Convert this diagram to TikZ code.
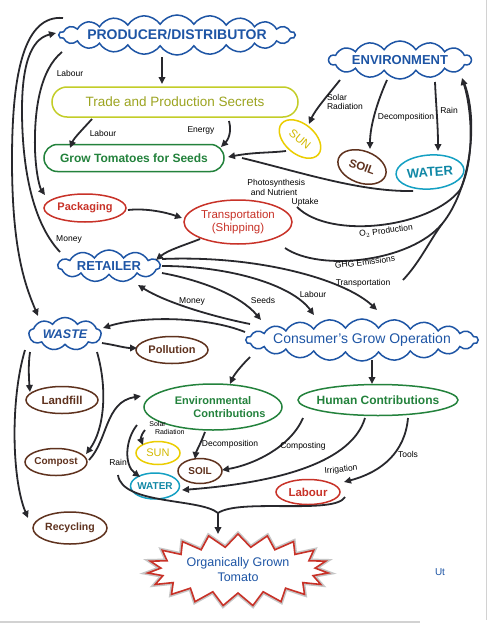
\documentclass[tikz,border=0pt]{standalone}
\usepackage{fontspec}
\setmainfont{Liberation Sans}
\usetikzlibrary{shapes.geometric,shapes.symbols,shapes.misc,arrows.meta,calc}
\definecolor{cblue}{RGB}{30,85,165}
\definecolor{cyg}{RGB}{195,205,40}
\definecolor{cgreen}{RGB}{35,130,60}
\definecolor{cred}{RGB}{200,50,40}
\definecolor{cbrown}{RGB}{95,50,30}
\definecolor{ccyan}{RGB}{20,160,195}
\definecolor{cyellow}{RGB}{235,205,0}
\definecolor{cink}{RGB}{40,40,45}
\begin{document}
\begin{tikzpicture}[x=1pt,y=-1pt,
  cloudb/.style={cloud, cloud puffs=#1, cloud puff arc=115, cloud ignores aspect, draw=cblue, line width=1.5pt, text=cblue, font=\bfseries, inner ysep=-3pt},
  rbox/.style={rounded rectangle, line width=1.5pt, inner sep=2pt},
  ell/.style={ellipse, line width=1.5pt, inner sep=1pt},
  lbl/.style={font=\fontsize{8.5}{9.5}\selectfont, text=black, inner sep=0.5pt, align=left},
  arr/.style={draw=cink, line width=1.8pt, -{Triangle[length=7pt,width=6.5pt]}},
  plain/.style={draw=cink, line width=1.8pt}]
\useasboundingbox (0,0) rectangle (487,629);
\fill[white] (0,0) rectangle (487,629);
\draw[gray!35, line width=1pt] (486,0) -- (486,620);
\draw[gray!35, line width=1.5pt] (0,622) -- (420,622);

% ---------- nodes ----------
\node[cloudb=22, inner xsep=-32pt, minimum width=236pt, minimum height=40pt, font=\bfseries\fontsize{14}{16}\selectfont] (prod) at (177,35) {PRODUCER/DISTRIBUTOR};
\node[rbox, draw=cyg, text=cyg!80!black, minimum width=250pt, minimum height=30pt, font=\fontsize{13.5}{15}\selectfont] (trade) at (175,102) {Trade and Production Secrets};
\node[rbox, draw=cgreen, text=cgreen, minimum width=184pt, minimum height=27pt, font=\bfseries\fontsize{12}{14}\selectfont] (grow) at (134,158) {Grow Tomatoes for Seeds};
\node[cloudb=14, inner xsep=-14pt, minimum width=142pt, minimum height=38pt, font=\bfseries\fontsize{13}{15}\selectfont] (env) at (400,60) {ENVIRONMENT};
\node[ell, draw=cyellow, text=cyellow!90!black, minimum width=48pt, minimum height=30pt, rotate=-40, font=\fontsize{11.5}{13}\selectfont] (sun1) at (300,139) {SUN};
\node[ell, draw=cbrown, text=cbrown, minimum width=50pt, minimum height=32pt, rotate=-20, font=\bfseries\fontsize{11.5}{13}\selectfont] (soil1) at (362,167) {SOIL};
\node[ell, draw=ccyan, text=ccyan!85!black, minimum width=68pt, minimum height=34pt, rotate=4, font=\bfseries\fontsize{13}{15}\selectfont] (water1) at (430,172) {WATER};
\node[ell, draw=cred, text=cred, minimum width=82pt, minimum height=28pt, font=\bfseries\fontsize{11}{13}\selectfont] (pack) at (85,208) {Packaging};
\node[ell, draw=cred, text=cred, minimum width=108pt, minimum height=44pt, inner xsep=-4pt, align=center, font=\fontsize{11.5}{12.5}\selectfont] (trans) at (238,222) {Transportation\\(Shipping)};
\node[cloudb=11, inner xsep=-10pt, minimum width=102pt, minimum height=32pt, font=\bfseries\fontsize{13}{15}\selectfont] (ret) at (109,266) {RETAILER};
\node[cloudb=9, inner xsep=-6pt, minimum width=72pt, minimum height=33pt, font=\bfseries\itshape\fontsize{12.5}{14}\selectfont] (waste) at (65,334) {WASTE};
\node[ell, draw=cbrown, text=cbrown, minimum width=72pt, minimum height=27pt, font=\bfseries\fontsize{11}{13}\selectfont] (poll) at (172,350) {Pollution};
\node[ell, draw=cbrown, text=cbrown, minimum width=72pt, minimum height=27pt, font=\bfseries\fontsize{11.5}{13}\selectfont] (land) at (62,400) {Landfill};
\node[ell, draw=cbrown, text=cbrown, minimum width=62pt, minimum height=27pt, inner xsep=-2pt, font=\bfseries\fontsize{10}{12}\selectfont] (comp) at (56,462) {Compost};
\node[ell, draw=cbrown, text=cbrown, minimum width=74pt, minimum height=32pt, font=\bfseries\fontsize{10.5}{12}\selectfont] (recy) at (70,528) {Recycling};
\node[cloudb=22, inner xsep=-30pt, minimum width=232pt, minimum height=42pt, font=\fontsize{14}{16}\selectfont] (cons) at (362,340) {Consumer's Grow Operation};
\node[ell, draw=cgreen, text=cgreen, minimum width=138pt, minimum height=46pt, inner xsep=-12pt, inner ysep=-2pt, align=center, font=\bfseries\fontsize{11}{13}\selectfont] (envc) at (213,407) {Environmental\\\hspace*{3em}Contributions};
\node[ell, draw=cgreen, text=cgreen, minimum width=160pt, minimum height=31pt, inner xsep=-14pt, font=\bfseries\fontsize{12}{14}\selectfont] (hum) at (378,400) {Human Contributions};
\node[ell, draw=cyellow, text=cyellow!90!black, minimum width=44pt, minimum height=23pt, font=\fontsize{11}{13}\selectfont] (sun2) at (158,453) {SUN};
\node[ell, draw=cbrown, text=cbrown, minimum width=44pt, minimum height=25pt, font=\bfseries\fontsize{10}{12}\selectfont] (soil2) at (200,471) {SOIL};
\node[ell, draw=ccyan, text=ccyan!85!black, minimum width=49pt, minimum height=26pt, inner xsep=-2pt, font=\bfseries\fontsize{10}{12}\selectfont] (water2) at (155,486) {WATER};
\node[ell, draw=cred, text=cred, minimum width=64pt, minimum height=25pt, font=\bfseries\fontsize{11.5}{13}\selectfont] (lab) at (308,492) {Labour};
\node[starburst, starburst points=19, starburst point height=13pt, random starburst=0, draw=cred, line width=1.6pt, preaction={draw=gray!45, line width=4.5pt}, fill=white, minimum width=176pt, minimum height=72pt, align=center, text=cblue, font=\fontsize{12.5}{15}\selectfont] (tom) at (238,570) {Organically Grown\\Tomato};
\node[text=cblue, font=\fontsize{10}{12}\selectfont] (sig) at (440,572) {Ut};

% free ends
\coordinate (o2s) at (297,207);
\coordinate (ghgs) at (285,248);
\coordinate (trs) at (403,280);
\coordinate (mg) at (218,513);
\coordinate (jn) at (442,224);

% ---------- connectors ----------
\draw[arr] ($(prod)+(-15,22)$) -- ($(trade)+(-13,-18)$);
\draw[arr] ($(trade)+(-83,17)$) .. controls (82,130) and (74,138) .. ($(grow)+(-64,-10)$);
\draw[arr] ($(trade)+(54,19)$) .. controls (232,132) and (228,140) .. ($(grow)+(87,-11)$);
\node[lbl] at (103,133) {Labour};
\node[lbl] at (201,130) {Energy};

\draw[arr] ($(env)+(-60,20)$) .. controls (328,95) and (315,110) .. ($(sun1)+(9,-15)$);
\draw[arr] ($(env)+(-13,20)$) .. controls (378,100) and (370,125) .. ($(soil1)+(8,-18)$);
\draw[arr] ($(env)+(35,22)$) .. controls (436,105) and (438,125) .. ($(water1)+(8,-21)$);
\node[lbl] at (345,102) {Solar\\Radiation};
\node[lbl] at (406,117) {Decomposition};
\node[lbl] at (449,110) {Rain};

% photosynthesis
\draw[arr] ($(sun1)+(-14,12)$) .. controls (270,153) and (255,152) .. ($(grow)+(94,-1)$);
\draw[plain] ($(water1)+(-17,19)$) .. controls (360,192) and (300,172) .. ($(grow)+(108,0)$);
\node[lbl, align=left] at (283,193) {Photosynthesis\\\hspace*{0.4em}and Nutrient\\\hspace*{5.2em}Uptake};

% O2, GHG, transportation to environment
\draw[arr] (o2s) .. controls (330,240) and (430,228) .. (460,190) .. controls (475,160) and (472,110) .. ($(env)+(62,18)$);
\draw[plain] (ghgs) .. controls (320,272) and (410,262) .. (jn);
\draw[plain] (trs) .. controls (420,262) and (430,240) .. (jn) .. controls (470,190) and (480,120) .. ($(env)+(63,20)$);
\node[lbl, rotate=7] at (386,231) {O$_2$ Production};
\node[lbl, rotate=7] at (365,262) {GHG Emissions};
\node[lbl] at (363,283) {Transportation};

% left arcs
\draw[arr] ($(prod)+(-114,-17)$) .. controls (25,15) and (12,70) .. (12,160) .. controls (12,250) and (25,285) .. ($(waste)+(-27,-18)$);
\draw[arr] ($(ret)+(-49,-14)$) .. controls (30,220) and (22,160) .. (22,110) .. controls (22,55) and (35,38) .. ($(prod)+(-121,-2)$);
\draw[arr] ($(prod)+(-115,17)$) .. controls (40,70) and (34,110) .. (35,150) .. controls (36,175) and (40,188) .. ($(pack)+(-40,-13)$);
\node[lbl] at (70,73) {Labour};
\node[lbl] at (69,239) {Money};

% packaging / transport / retailer
\draw[arr] ($(pack)+(43,2)$) .. controls (145,208) and (165,212) .. ($(trans)+(-56,-4)$);
\draw[arr] ($(trans)+(-38,17)$) .. controls (185,245) and (168,250) .. ($(ret)+(47,-6)$);

% retailer <-> consumer
\draw[arr] ($(ret)+(53,-7)$) .. controls (260,255) and (345,280) .. ($(cons)+(15,-30)$);
\draw[arr] ($(ret)+(53,0)$) .. controls (230,266) and (292,285) .. ($(cons)+(-48,-25)$);
\draw[arr] ($(ret)+(53,7)$) .. controls (200,280) and (240,295) .. ($(cons)+(-101,-20)$);
\draw[arr] ($(cons)+(-112,-16)$) .. controls (210,316) and (165,302) .. ($(ret)+(29,19)$);
\draw[arr] ($(cons)+(-117,-8)$) .. controls (205,316) and (140,316) .. ($(waste)+(38,-6)$);
\node[lbl] at (192,301) {Money};
\node[lbl] at (263,300) {Seeds};
\node[lbl] at (313,294) {Labour};

% waste
\draw[arr] ($(waste)+(37,9)$) .. controls (115,345) and (125,348) .. ($(poll)+(-35,-2)$);
\draw[arr] ($(waste)+(-35,18)$) .. controls (28,365) and (29,380) .. ($(land)+(-32,-8)$);
\draw[arr] ($(waste)+(32,18)$) .. controls (108,390) and (104,430) .. ($(comp)+(30,-8)$);
\draw[arr] ($(waste)+(-40,16)$) .. controls (10,400) and (12,480) .. ($(recy)+(-42,-10)$);
\draw[arr] ($(comp)+(33,-2)$) .. controls (108,440) and (105,402) .. ($(envc)+(-72,-11)$);

% consumer
\draw[arr] ($(cons)+(-112,17)$) .. controls (240,367) and (234,375) .. ($(envc)+(17,-23)$);
\draw[arr] ($(cons)+(10,20)$) -- ($(hum)+(-6,-16)$);

% environmental contributions
\draw[arr] ($(envc)+(-68,23)$) .. controls (140,436) and (141,440) .. ($(sun2)+(-15,-8)$);
\draw[arr] ($(envc)+(-8,25)$) .. controls (200,445) and (196,452) .. ($(soil2)+(-5,-12)$);
\draw[arr] ($(envc)+(-76,18)$) .. controls (125,440) and (124,465) .. ($(water2)+(-15,-9)$);
\node[lbl, font=\fontsize{7}{7.5}\selectfont] at (167,428) {Solar\\\hspace*{0.8em}Radiation};
\node[lbl] at (230,444) {Decomposition};
\node[lbl] at (118,462) {Rain};

% human contributions
\draw[arr] ($(hum)+(-75,18)$) .. controls (290,448) and (252,465) .. ($(soil2)+(22,-1)$);
\draw[arr] ($(hum)+(-13,18)$) .. controls (350,468) and (260,484) .. ($(water2)+(27,4)$);
\draw[arr] ($(hum)+(30,18)$) .. controls (405,452) and (382,472) .. ($(lab)+(36,-10)$);
\node[lbl] at (303,446) {Composting};
\node[lbl, rotate=6] at (341,470) {Irrigation};
\node[lbl] at (408,454) {Tools};

% merge into tomato
\draw[plain] ($(water2)+(-37,-11)$) .. controls (122,505) and (200,498) .. (mg);
\draw[plain] ($(lab)+(37,5)$) .. controls (335,515) and (240,498) .. (mg);
\draw[arr] (mg) -- ($(tom)+(-20,-36)$);
\end{tikzpicture}
\end{document}
